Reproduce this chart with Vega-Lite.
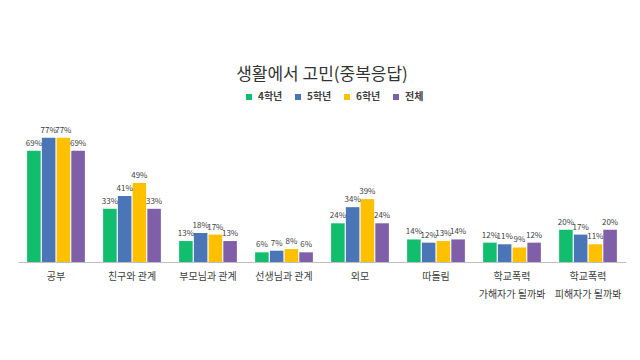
{
  "$schema": "https://vega.github.io/schema/vega-lite/v6.json",
  "width": 608,
  "height": 129,
  "autosize": {"type": "none"},
  "padding": {"left": 18, "top": 133, "right": 14, "bottom": 98},
  "background": "white",
  "title": {"text": "생활에서 고민(중복응답)", "fontSize": 17, "font": "Noto Sans CJK KR", "fontWeight": "normal", "color": "#333333", "offset": 8, "anchor": "middle"},
  "config": {
    "view": {"stroke": null},
    "font": "Noto Sans CJK KR"
  },
  "data": {
    "values": [
      {"cat": "공부", "grp": "4학년", "v": 0.69},
      {"cat": "공부", "grp": "5학년", "v": 0.77},
      {"cat": "공부", "grp": "6학년", "v": 0.77},
      {"cat": "공부", "grp": "전체", "v": 0.69},
      {"cat": "친구와 관계", "grp": "4학년", "v": 0.33},
      {"cat": "친구와 관계", "grp": "5학년", "v": 0.41},
      {"cat": "친구와 관계", "grp": "6학년", "v": 0.49},
      {"cat": "친구와 관계", "grp": "전체", "v": 0.33},
      {"cat": "부모님과 관계", "grp": "4학년", "v": 0.13},
      {"cat": "부모님과 관계", "grp": "5학년", "v": 0.18},
      {"cat": "부모님과 관계", "grp": "6학년", "v": 0.17},
      {"cat": "부모님과 관계", "grp": "전체", "v": 0.13},
      {"cat": "선생님과 관계", "grp": "4학년", "v": 0.06},
      {"cat": "선생님과 관계", "grp": "5학년", "v": 0.07},
      {"cat": "선생님과 관계", "grp": "6학년", "v": 0.08},
      {"cat": "선생님과 관계", "grp": "전체", "v": 0.06},
      {"cat": "외모", "grp": "4학년", "v": 0.24},
      {"cat": "외모", "grp": "5학년", "v": 0.34},
      {"cat": "외모", "grp": "6학년", "v": 0.39},
      {"cat": "외모", "grp": "전체", "v": 0.24},
      {"cat": "따돌림", "grp": "4학년", "v": 0.14},
      {"cat": "따돌림", "grp": "5학년", "v": 0.12},
      {"cat": "따돌림", "grp": "6학년", "v": 0.13},
      {"cat": "따돌림", "grp": "전체", "v": 0.14},
      {"cat": "학교폭력|가해자가 될까봐", "grp": "4학년", "v": 0.12},
      {"cat": "학교폭력|가해자가 될까봐", "grp": "5학년", "v": 0.11},
      {"cat": "학교폭력|가해자가 될까봐", "grp": "6학년", "v": 0.09},
      {"cat": "학교폭력|가해자가 될까봐", "grp": "전체", "v": 0.12},
      {"cat": "학교폭력|피해자가 될까봐", "grp": "4학년", "v": 0.20},
      {"cat": "학교폭력|피해자가 될까봐", "grp": "5학년", "v": 0.17},
      {"cat": "학교폭력|피해자가 될까봐", "grp": "6학년", "v": 0.11},
      {"cat": "학교폭력|피해자가 될까봐", "grp": "전체", "v": 0.20}
    ]
  },
  "encoding": {
    "x": {
      "field": "cat", "type": "nominal", "sort": null, "title": null,
      "scale": {"paddingInner": 0.24, "paddingOuter": 0.12},
      "axis": {
        "labelAngle": 0, "labelExpr": "split(datum.label, '|')", "labelFontSize": 10,
        "labelColor": "#404040", "labelLineHeight": 18, "labelPadding": 9,
        "ticks": false, "domainColor": "#bfbfbf", "domainWidth": 1, "labelLimit": 200
      }
    },
    "xOffset": {"field": "grp", "type": "nominal", "scale": {"paddingInner": 0.08}},
    "y": {"field": "v", "type": "quantitative", "scale": {"domain": [0, 0.8]}, "axis": null}
  },
  "layer": [
    {
      "mark": {"type": "bar"},
      "encoding": {
        "color": {
          "field": "grp", "type": "nominal", "title": null,
          "scale": {"domain": ["4학년", "5학년", "6학년", "전체"], "range": ["#12BE6E", "#4A76B8", "#FFC000", "#7F5FA8"]},
          "legend": {"orient": "none", "legendX": 226, "legendY": -41, "direction": "horizontal", "symbolType": "square", "symbolSize": 36, "labelFontSize": 10, "labelColor": "#404040", "labelFontWeight": "bold", "columnPadding": 10, "symbolStrokeWidth": 0}
        }
      }
    },
    {
      "mark": {"type": "text", "dy": -7, "fontSize": 8, "color": "#404040"},
      "encoding": {
        "text": {"field": "v", "type": "quantitative", "format": ".0%"}
      }
    }
  ]
}
